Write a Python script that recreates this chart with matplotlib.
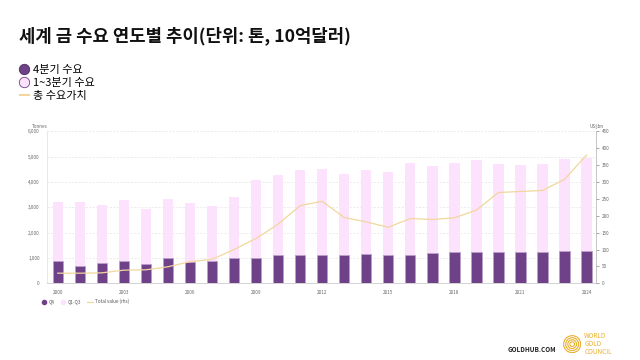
import numpy as np
import matplotlib.pyplot as plt
from matplotlib.lines import Line2D
from matplotlib.patches import Circle
from matplotlib.ticker import FuncFormatter

plt.rcParams['font.family'] = ['Noto Sans CJK KR', 'DejaVu Sans']

# data (tonnes / US$bn)
years = list(range(2000, 2025))
total_t = [3200, 3210, 3090, 3300, 2920, 3340, 3170, 3050, 3410, 4080,
           4290, 4490, 4530, 4300, 4470, 4390, 4750, 4630, 4750, 4870,
           4710, 4670, 4720, 4900, 4935]
q4_t = [890, 680, 815, 890, 760, 985, 840, 880, 985, 985,
        1120, 1120, 1110, 1100, 1160, 1100, 1120, 1195, 1235, 1235,
        1220, 1235, 1220, 1275, 1290]
value_bn = [30, 30, 31, 39, 40, 49, 64, 71, 100, 133,
            175, 230, 243, 195, 182, 166, 192, 189, 194, 217,
            269, 272, 275, 308, 380]
tick_years = [2000, 2003, 2006, 2009, 2012, 2015, 2018, 2021, 2024]

q1q3_t = [t - q for t, q in zip(total_t, q4_t)]

DARK = '#6e4188'
PINK = '#fde2fd'
GOLD = '#f2d69c'
LOGO = '#e8b030'

fig = plt.figure(figsize=(6.4, 3.6), dpi=100)
ax = fig.add_axes([0.073, 0.213, 0.859, 0.422])
x = np.arange(len(years))

ax.bar(x, q4_t, width=0.47, color=DARK, edgecolor='#b9a0cb', linewidth=0.6, zorder=3)
ax.bar(x, q1q3_t, width=0.47, bottom=q4_t, color=PINK, linewidth=0, zorder=3)
ax.set_xlim(-0.5, len(years) - 0.55)
ax.set_ylim(0, 6000)
ax.set_yticks(range(0, 6001, 1000))
ax.yaxis.set_major_formatter(FuncFormatter(lambda v, p: f'{int(v):,}'))
ax.set_xticks([years.index(y) for y in tick_years])
ax.set_xticklabels(tick_years)
ax.tick_params(labelsize=3.3, colors='#666666', length=0, pad=5)
ax.grid(axis='y', color='#e4e4e4', linestyle=(0, (3, 2)), linewidth=0.5, zorder=0)
for s in ['top', 'right']:
    ax.spines[s].set_visible(False)
ax.spines['left'].set_color('#e4e4e4')
ax.spines['bottom'].set_color('#cccccc')
ax.spines['left'].set_linewidth(0.6)
ax.spines['bottom'].set_linewidth(0.6)

ax2 = ax.twinx()
ax2.plot(x, value_bn, color=GOLD, linewidth=0.9, zorder=4)
ax2.set_ylim(0, 450)
ax2.set_yticks(range(0, 451, 50))
ax2.tick_params(labelsize=3.3, colors='#666666', length=2, width=0.4, pad=2)
for s in ['top', 'left', 'bottom']:
    ax2.spines[s].set_visible(False)
ax2.spines['right'].set_color('#bbbbbb')
ax2.spines['right'].set_linewidth(0.6)

fig.text(0.05, 0.645, 'Tonnes', fontsize=3.3, color='#666666')
fig.text(0.932, 0.645, 'US$bn', fontsize=3.3, color='#666666', ha='center')

# bottom legend (english)
h_small = [
    Line2D([], [], marker='o', linestyle='', markersize=3, color=DARK),
    Line2D([], [], marker='o', linestyle='', markersize=3, color=PINK),
    Line2D([], [], color=GOLD, linewidth=0.8),
]
fig.legend(h_small, ['Q4', 'Q1-Q3', 'Total value (rhs)'], loc='center left',
           bbox_to_anchor=(0.058, 0.162), ncol=3, frameon=False, fontsize=3.3,
           labelcolor='#555555', handlelength=1.2, columnspacing=1.2, handletextpad=0.5)

# title + korean legend
fig.text(0.03, 0.9, '세계 금 수요 연도별 추이(단위: 톤, 10억달러)', fontsize=12.8,
         fontweight='bold', va='center', color='#111111')
h_big = [
    Line2D([], [], marker='o', linestyle='', markersize=7.5, markerfacecolor=DARK,
           markeredgecolor='#4a2d60', markeredgewidth=0.6),
    Line2D([], [], marker='o', linestyle='', markersize=7.5, markerfacecolor=PINK,
           markeredgecolor='#6e4188', markeredgewidth=0.6),
    Line2D([], [], color=GOLD, linewidth=1.5),
]
fig.legend(h_big, ['4분기 수요', '1~3분기 수요', '총 수요가치'], loc='upper left',
           bbox_to_anchor=(0.022, 0.835), frameon=False, fontsize=8,
           handlelength=0.8, handletextpad=0.4, labelspacing=0.25, borderpad=0)

# footer
fig.text(0.869, 0.028, 'GOLDHUB.COM', fontsize=4.6, fontweight='bold', color='#222222',
         ha='right', va='center')
lax = fig.add_axes([0.88, 0.019, 0.028, 0.05])
lax.set_aspect('equal')
lax.set_xlim(-1, 1)
lax.set_ylim(-1, 1)
lax.axis('off')
for r in [0.95, 0.72, 0.49, 0.26]:
    lax.add_patch(Circle((0, 0), r, fill=False, edgecolor=LOGO, linewidth=0.8))
fig.text(0.913, 0.044, 'WORLD\nGOLD\nCOUNCIL', fontsize=4.6, color=LOGO,
         va='center', ha='left', linespacing=0.95)

fig.savefig('out.png', dpi=100)
